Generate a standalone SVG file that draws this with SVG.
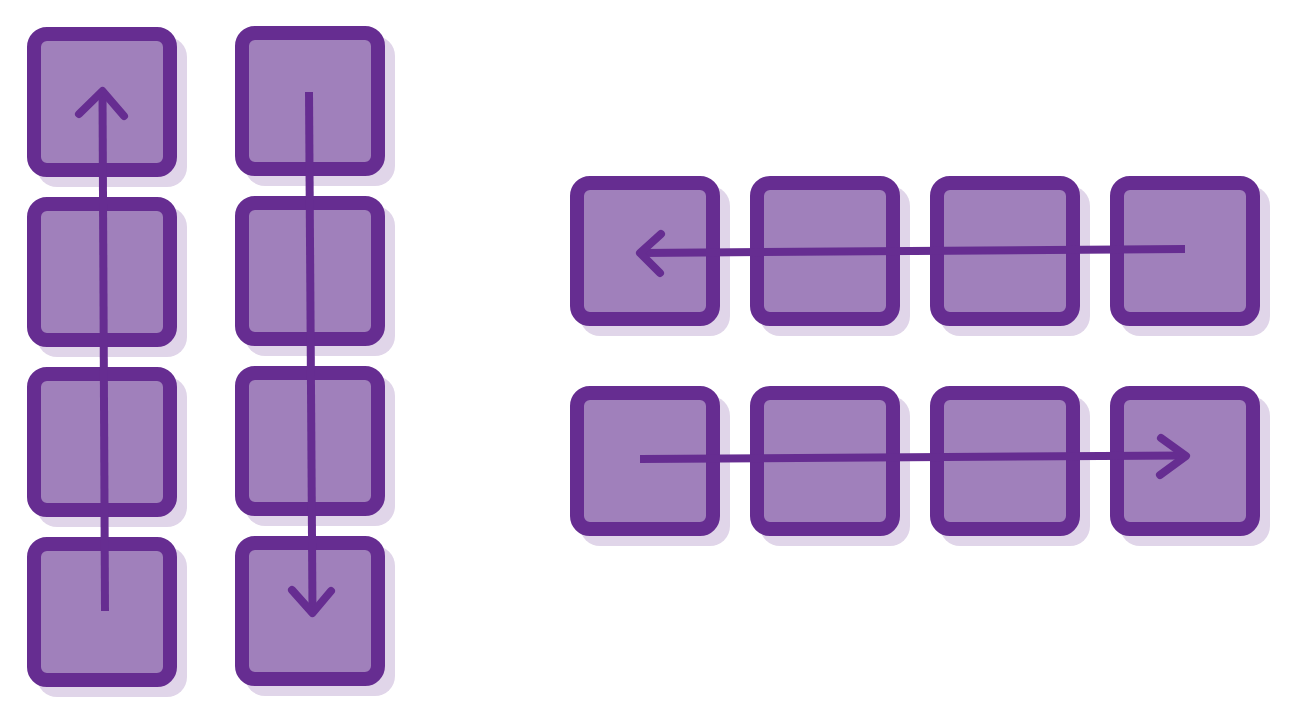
<svg xmlns="http://www.w3.org/2000/svg" width="1290" height="723" viewBox="0 0 1290 723">
<style>
.sh{fill:#e0d5e9}
.bx{fill:#a080bb;stroke:#662d91;stroke-width:14}
.ln{fill:none;stroke:#662d91;stroke-width:8;stroke-linecap:butt}
.hd{fill:none;stroke:#662d91;stroke-width:8;stroke-linecap:round;stroke-linejoin:round}
</style>
<defs>
<g id="box">
<rect class="sh" x="37" y="37" width="150" height="150" rx="20"/>
<rect class="bx" x="34" y="34" width="136" height="136" rx="13"/>
</g>
</defs>
<g id="nodes">
<g id="a1"><use href="#box" x="0" y="0"/></g>
<g id="a2"><use href="#box" x="0" y="170"/></g>
<g id="a3"><use href="#box" x="0" y="340"/></g>
<g id="a4"><use href="#box" x="0" y="510"/></g>
<g id="b1"><use href="#box" x="208" y="-1"/></g>
<g id="b2"><use href="#box" x="208" y="169"/></g>
<g id="b3"><use href="#box" x="208" y="339"/></g>
<g id="b4"><use href="#box" x="208" y="509"/></g>
<g id="c1"><use href="#box" x="543" y="149"/></g>
<g id="c2"><use href="#box" x="723" y="149"/></g>
<g id="c3"><use href="#box" x="903" y="149"/></g>
<g id="c4"><use href="#box" x="1083" y="149"/></g>
<g id="d1"><use href="#box" x="543" y="359"/></g>
<g id="d2"><use href="#box" x="723" y="359"/></g>
<g id="d3"><use href="#box" x="903" y="359"/></g>
<g id="d4"><use href="#box" x="1083" y="359"/></g>
</g>
<g id="connectors">
<path class="ln" d="M105 611 L102.5 92"/>
<path class="hd" d="M79 114 L102.5 91 L124 116"/>
<path class="ln" d="M309 92 L312.5 612"/>
<path class="hd" d="M292 590 L312.5 613 L331 591"/>
<path class="ln" d="M1185 249 L641 253"/>
<path class="hd" d="M661 234 L640 253 L660 273"/>
<path class="ln" d="M640 459 L1186 455.5"/>
<path class="hd" d="M1161 438 L1186 456 L1160 475"/>
</g>
</svg>
